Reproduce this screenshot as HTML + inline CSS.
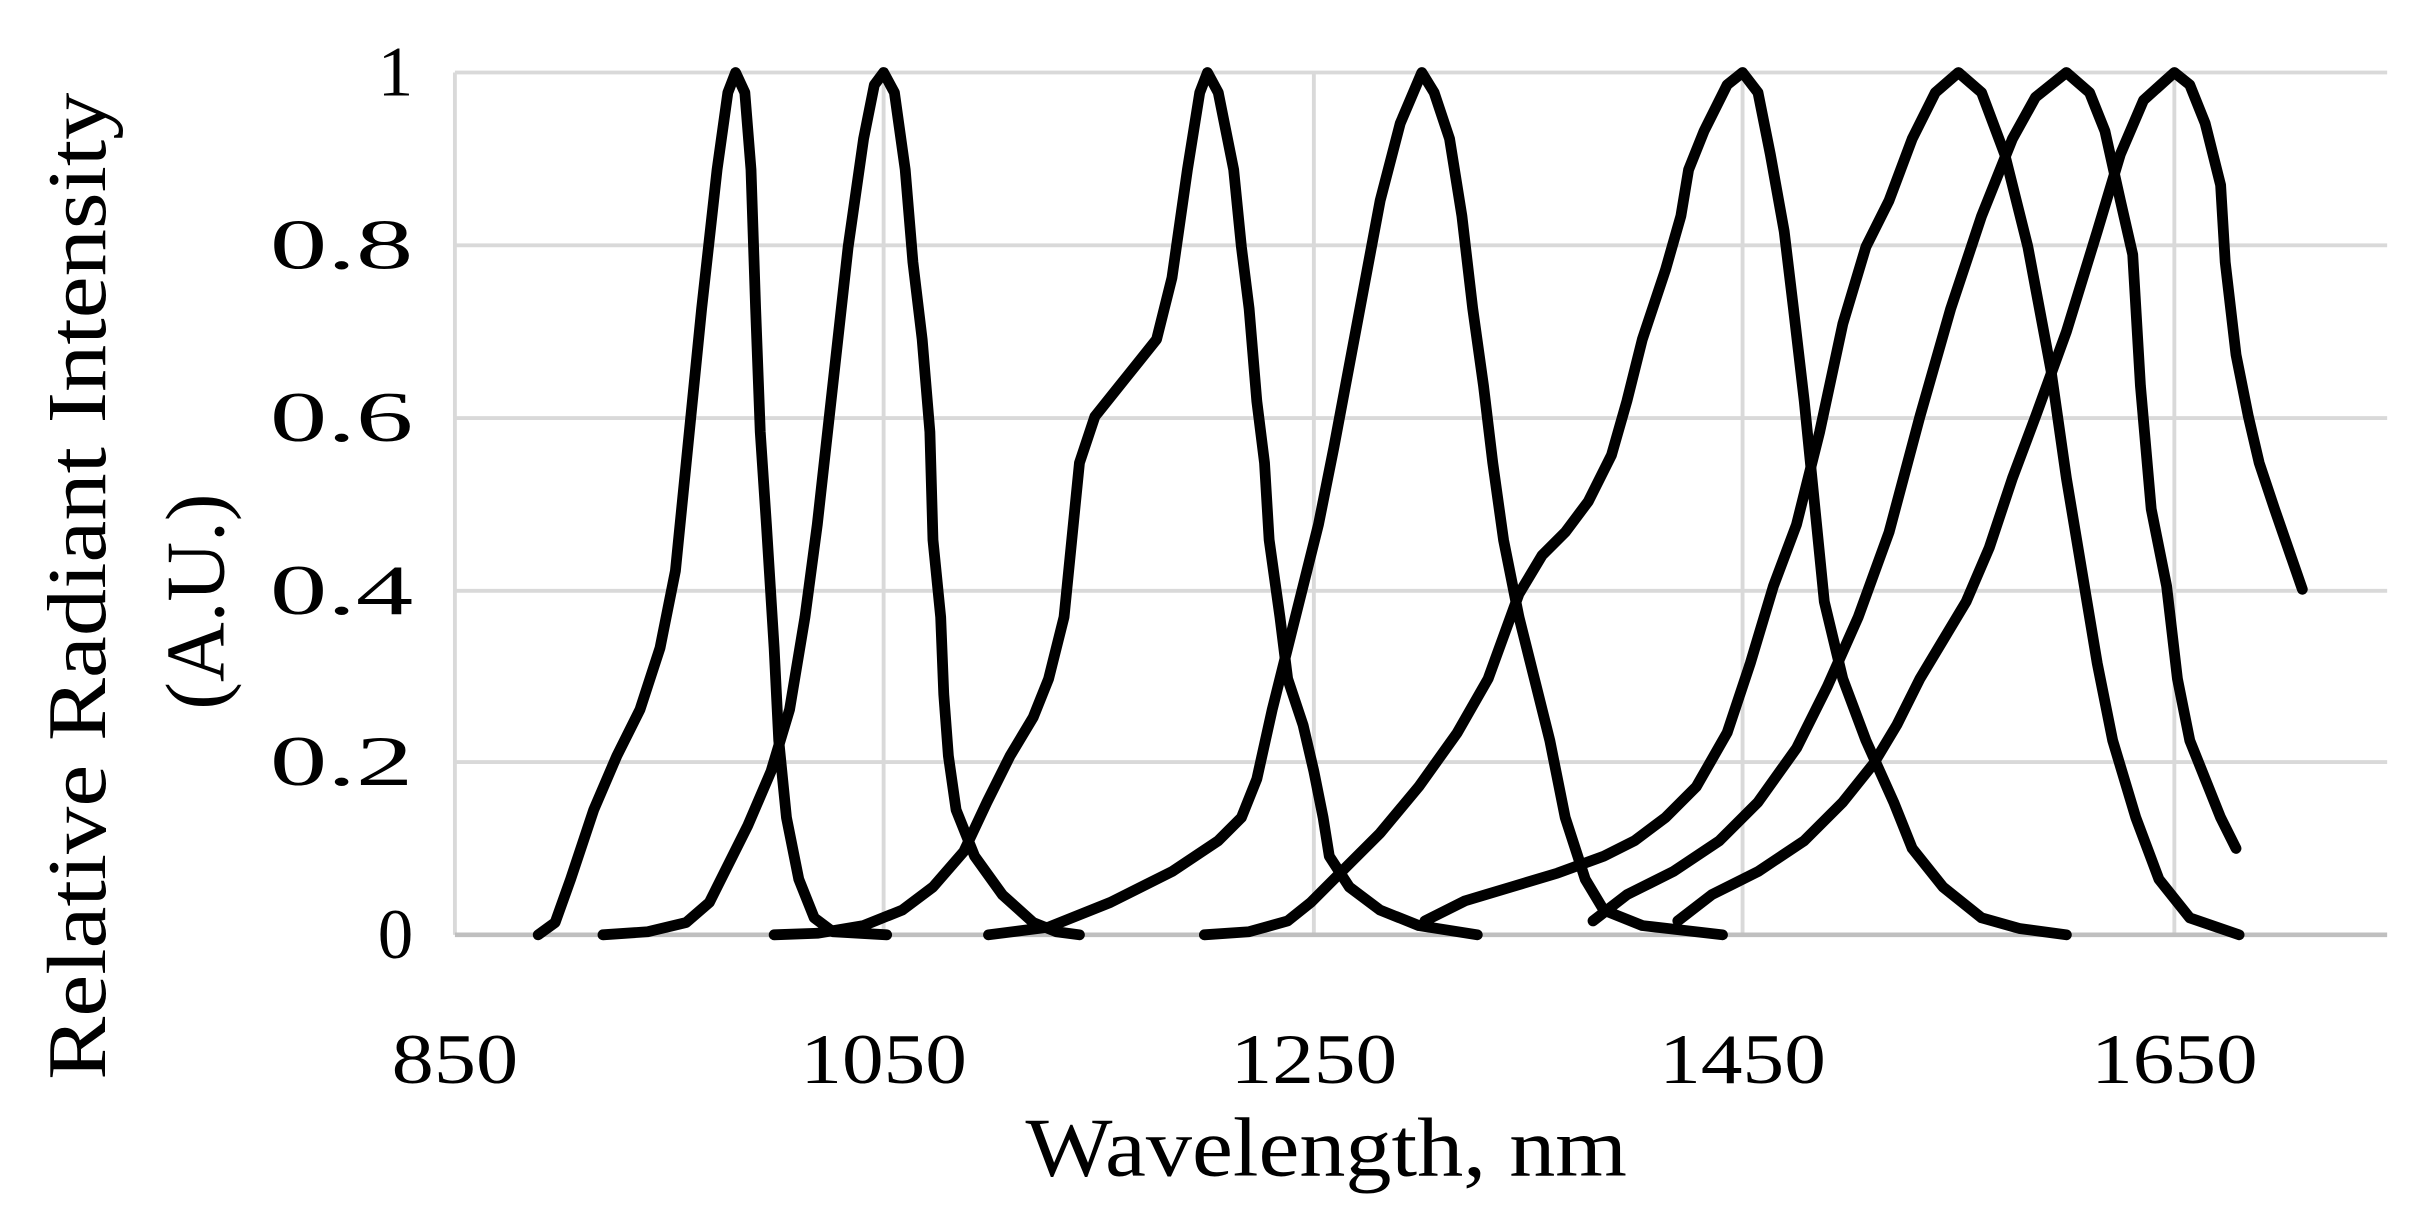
<!DOCTYPE html>
<html><head><style>html,body{margin:0;padding:0;background:#fff}svg{display:block}</style></head>
<body>
<svg width="2418" height="1231" viewBox="0 0 1568 798" preserveAspectRatio="none" xmlns="http://www.w3.org/2000/svg">
<g stroke="#d9d9d9" stroke-width="2.5">
<line x1="295" y1="47" x2="1548" y2="47"/><line x1="295" y1="159" x2="1548" y2="159"/>
<line x1="295" y1="271" x2="1548" y2="271"/><line x1="295" y1="383" x2="1548" y2="383"/>
<line x1="295" y1="494" x2="1548" y2="494"/>
<line x1="295" y1="47" x2="295" y2="606"/><line x1="573" y1="47" x2="573" y2="606"/>
<line x1="852" y1="47" x2="852" y2="606"/><line x1="1130" y1="47" x2="1130" y2="606"/>
<line x1="1410" y1="47" x2="1410" y2="606"/>
</g>
<line x1="295" y1="606" x2="1548" y2="606" stroke="#bfbfbf" stroke-width="3"/>
<g font-family="Liberation Serif, serif" font-size="46" fill="#000">
<g text-anchor="end"><text x="268" y="62">1</text><text x="268" y="174" textLength="93" lengthAdjust="spacingAndGlyphs">0.8</text><text x="268" y="286" textLength="93" lengthAdjust="spacingAndGlyphs">0.6</text><text x="268" y="398" textLength="93" lengthAdjust="spacingAndGlyphs">0.4</text><text x="268" y="509" textLength="93" lengthAdjust="spacingAndGlyphs">0.2</text><text x="268" y="621">0</text></g>
<g text-anchor="middle"><text x="295" y="702" textLength="82" lengthAdjust="spacingAndGlyphs">850</text><text x="573" y="702" textLength="108" lengthAdjust="spacingAndGlyphs">1050</text><text x="852" y="702" textLength="108" lengthAdjust="spacingAndGlyphs">1250</text><text x="1130" y="702" textLength="108" lengthAdjust="spacingAndGlyphs">1450</text><text x="1410" y="702" textLength="108" lengthAdjust="spacingAndGlyphs">1650</text>
<text x="860" y="762" font-size="54" textLength="390" lengthAdjust="spacingAndGlyphs">Wavelength, nm</text>
<text transform="translate(68,380) rotate(-90)" font-size="54" textLength="640" lengthAdjust="spacingAndGlyphs">Relative Radiant Intensity</text>
<text transform="translate(145,390) rotate(-90)" font-size="54" textLength="140" lengthAdjust="spacingAndGlyphs">(A.U.)</text></g>
</g>
<g fill="none" stroke="#000" stroke-width="7" stroke-linejoin="round" stroke-linecap="round">
<polyline points="349,606 360,598 370,570 385,525 400,490 415,460 428,420 438,370 445,300 455,200 465,110 472,60 477,47 483,60 487,110 490,200 493,280 497,340 502,420 505,480 510,530 518,570 528,595 540,604 575,606"/>
<polyline points="391,606 420,604 445,598 460,585 470,565 485,535 500,500 512,460 522,400 530,340 540,250 550,160 560,90 567,55 573,47 580,60 587,110 592,170 598,220 603,280 605,350 610,400 612,450 615,490 620,525 632,555 650,580 670,598 685,604 700,606"/>
<polyline points="502,606 530,605 560,600 585,590 605,575 625,552 640,520 655,490 670,465 680,440 690,400 695,350 700,300 710,270 730,245 750,220 760,180 770,110 778,60 783,47 790,60 800,110 805,160 810,200 815,260 820,300 823,350 830,400 835,440 845,470 852,500 858,530 862,555 875,575 895,590 920,600 958,606"/>
<polyline points="641,606 680,601 720,585 760,565 790,545 805,530 815,505 825,460 840,400 855,340 865,290 880,210 895,130 908,80 922,47 930,60 940,90 948,140 955,200 962,250 968,300 975,350 985,400 995,440 1005,480 1015,530 1028,570 1040,590 1065,600 1117,606"/>
<polyline points="781,606 810,604 835,597 850,585 870,565 895,540 920,510 945,475 965,440 985,385 1000,360 1015,345 1030,325 1045,295 1055,260 1065,220 1080,175 1090,140 1095,110 1105,85 1120,55 1130,47 1140,60 1148,100 1157,150 1163,200 1170,260 1177,330 1183,390 1195,440 1210,480 1228,520 1240,550 1260,575 1285,595 1310,602 1340,606"/>
<polyline points="924,597 950,584 980,575 1010,566 1040,555 1060,545 1080,530 1100,510 1120,475 1135,430 1150,380 1165,340 1180,280 1195,210 1210,160 1225,130 1240,90 1255,60 1270,47 1285,60 1300,100 1315,160 1330,240 1340,310 1350,370 1360,430 1370,480 1385,530 1400,570 1420,595 1452,606"/>
<polyline points="1033,597 1055,580 1085,565 1115,545 1140,520 1165,485 1185,445 1205,400 1225,345 1245,270 1265,200 1285,140 1305,90 1320,63 1340,47 1355,60 1365,85 1375,130 1383,165 1388,250 1395,330 1405,380 1412,440 1420,480 1432,510 1440,530 1450,550"/>
<polyline points="1088,597 1110,580 1140,565 1170,545 1195,520 1215,495 1230,470 1245,440 1260,415 1275,390 1290,355 1305,310 1320,270 1340,215 1360,150 1375,100 1390,65 1410,47 1420,55 1430,80 1440,120 1443,170 1450,230 1458,270 1465,300 1475,330 1493,382"/>
</g>
</svg>
</body></html>
